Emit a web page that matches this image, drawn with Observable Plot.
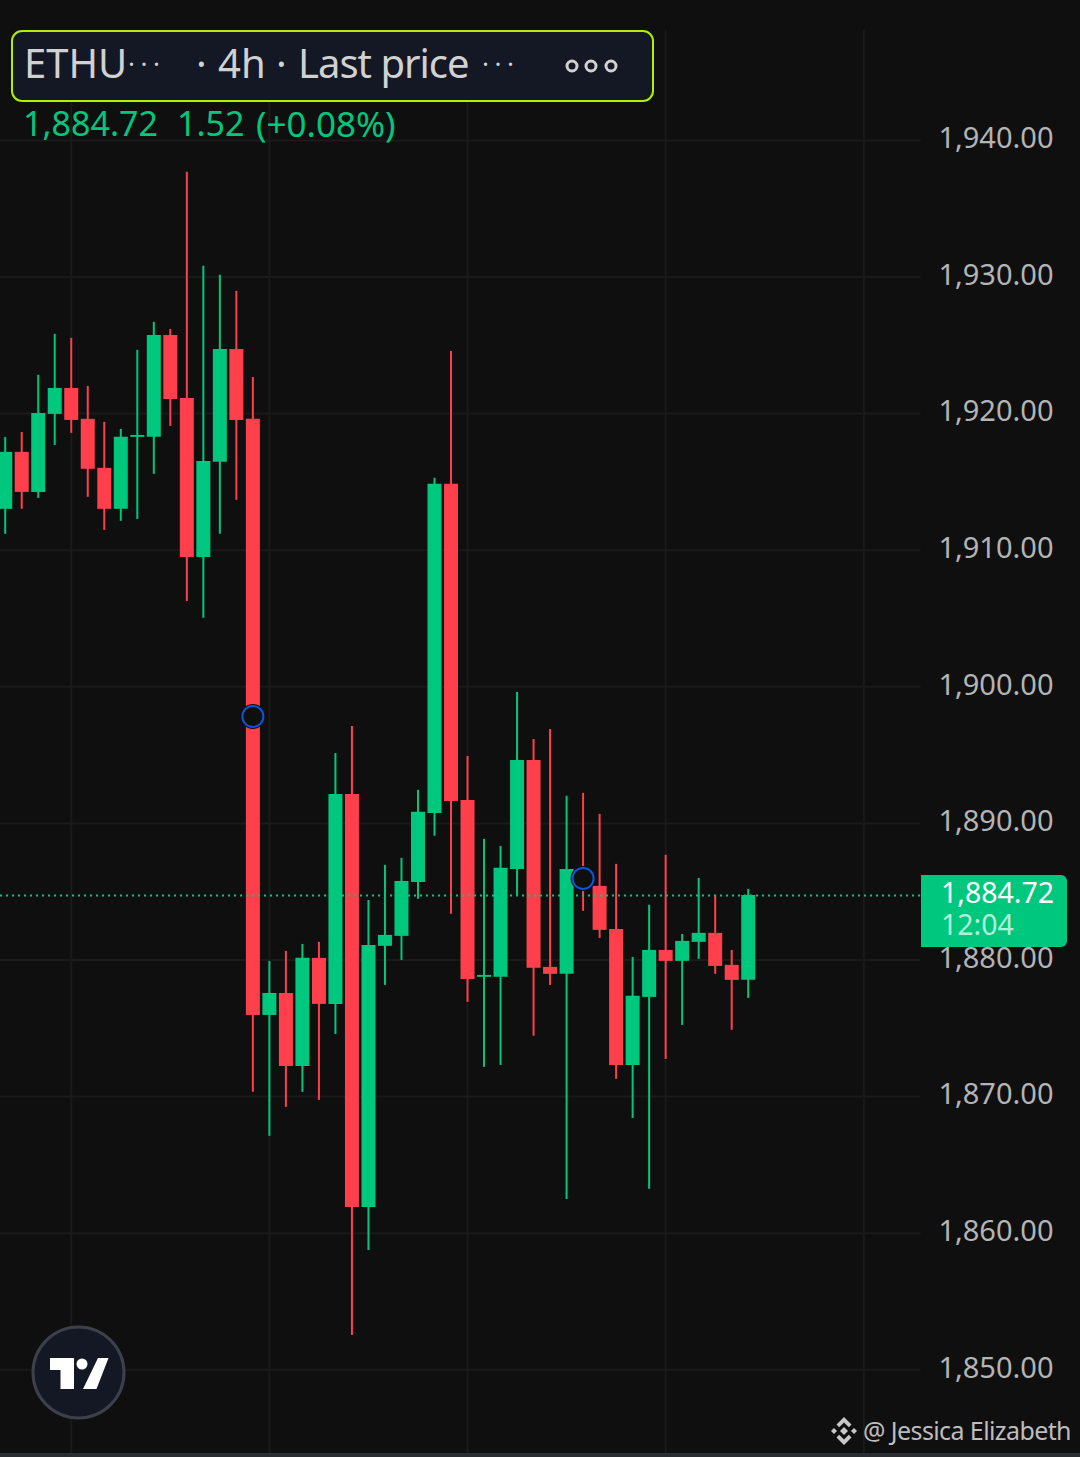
<!DOCTYPE html>
<html>
<head>
<meta charset="utf-8">
<script src="https://cdn.jsdelivr.net/npm/d3@7"></script>
<script src="https://cdn.jsdelivr.net/npm/@observablehq/plot@0.6"></script>
<style>
html,body{margin:0;padding:0;background:#0f0f0f;}
#stage{position:relative;width:1080px;height:1457px;overflow:hidden;font-family:"Noto Sans",sans-serif;}
#stage svg{display:block;}
.abs{position:absolute;white-space:pre;line-height:1;}
</style>
</head>
<body>
<div id="stage"></div>
<script>
const opens = [1912.99,1917.16,1914.23,1919.94,1921.84,1919.58,1915.99,1912.99,1918.26,1918.26,1925.72,1921.11,1909.47,1916.43,1924.70,1919.58,1875.94,1877.55,1872.21,1880.12,1876.75,1892.12,1861.89,1881.00,1881.73,1885.68,1890.73,1914.82,1891.68,1878.73,1878.73,1886.63,1894.61,1879.46,1878.95,1886.56,1885.39,1882.24,1872.28,1877.26,1880.70,1879.90,1881.29,1881.95,1879.61,1878.51];
const closes = [1917.16,1914.23,1920.01,1921.84,1919.50,1915.92,1912.99,1918.26,1918.40,1925.72,1921.04,1909.47,1916.50,1924.70,1919.50,1875.94,1877.55,1872.21,1880.12,1876.75,1892.12,1861.89,1881.07,1881.80,1885.75,1890.81,1914.82,1891.61,1878.58,1878.87,1886.71,1894.61,1879.39,1878.95,1886.63,1885.39,1882.17,1872.28,1877.34,1880.70,1879.90,1881.36,1881.95,1879.53,1878.51,1884.72];
const highs = [1918.26,1918.62,1922.80,1925.80,1925.51,1921.99,1919.36,1918.84,1924.63,1926.68,1926.16,1937.66,1930.78,1930.12,1928.95,1922.65,1879.90,1880.63,1881.14,1881.29,1895.12,1897.10,1884.36,1886.93,1887.44,1892.42,1915.26,1924.55,1894.90,1888.83,1888.32,1899.59,1896.15,1896.88,1891.98,1892.20,1890.66,1887.00,1880.19,1884.00,1887.66,1881.87,1885.97,1884.73,1880.70,1885.17];
const lows = [1911.16,1912.99,1913.79,1917.67,1918.55,1913.87,1911.45,1912.11,1912.25,1915.55,1919.06,1906.25,1905.01,1911.16,1913.65,1870.31,1867.09,1869.21,1870.31,1869.72,1874.55,1852.52,1858.74,1878.14,1879.97,1884.44,1889.05,1883.34,1876.90,1872.14,1872.28,1884.66,1874.41,1878.14,1862.47,1883.56,1881.58,1871.26,1868.40,1863.21,1872.72,1875.21,1880.04,1878.95,1874.85,1877.19];
const priceTicks = [1940,1930,1920,1910,1900,1890,1880,1870,1860,1850];
const timeGrid = [4,16,28,40,52];
const lastPrice = 1884.72;
const markers = [{i:15,price:1897.83},{i:35,price:1885.97}];

const GREEN = "#00c77e", RED = "#ff404c", BG = "#0f0f0f", GRID = "#1a1a1a";
const candles = opens.map((o,i)=>({i,open:o,close:closes[i],high:highs[i],low:lows[i],color:closes[i]>=o?GREEN:RED}));
const xMin = -0.285, xMax = 63.49, xGridEnd = 55.47;

const chart = Plot.plot({
  width:1080, height:1457,
  marginTop:0, marginBottom:0, marginLeft:0, marginRight:27,
  style:{background:"transparent",overflow:"visible"},
  x:{domain:[xMin,xMax],axis:null},
  y:{domain:[1843.58,1950.24],axis:null},
  marks:[
    Plot.ruleY(priceTicks,{x1:xMin,x2:xGridEnd,stroke:GRID,strokeWidth:2}),
    Plot.ruleX(timeGrid,{y1:1843.85,y2:1948.05,stroke:GRID,strokeWidth:2}),
    Plot.ruleX(candles,{x:"i",y1:"low",y2:"high",stroke:"color",strokeWidth:2}),
    Plot.ruleX(candles,{x:"i",y1:"open",y2:"close",stroke:"color",strokeWidth:14}),
    Plot.ruleY([lastPrice],{x1:xMin,x2:xGridEnd,stroke:GREEN,strokeWidth:2,strokeDasharray:"2,4"}),
    Plot.dot(markers,{x:"i",y:"price",r:12.5,fill:BG,stroke:"none"}),
    Plot.dot(markers,{x:"i",y:"price",r:10.5,fill:BG,stroke:"#0b55d9",strokeWidth:2}),
    Plot.axisY(priceTicks,{anchor:"right",tickSize:0,tickPadding:0,textAnchor:"end",label:null,
      tickFormat:d3.format(",.2f"),fontSize:29,fill:"#b4b4b4",dy:-1.5,fontFamily:"Noto Sans"})
  ]
});
const stage = document.getElementById("stage");
stage.appendChild(chart);

stage.insertAdjacentHTML("beforeend",`
<div class="abs" style="left:0;top:1453px;width:1080px;height:4px;background:#2a2e32"></div>

<div class="abs" style="left:11px;top:30px;width:639px;height:68px;background:#141824;border:2px solid #aef000;border-radius:11px"></div>
<div class="abs" style="left:24px;top:43px;font-size:40px;color:#d1d1d1">ETHU</div>
<div class="abs" style="left:128px;top:50px;font-size:26px;color:#d1d1d1;letter-spacing:5.500px">···</div>
<div class="abs" style="left:196px;top:43px;font-size:40px;color:#d1d1d1">·</div>
<div class="abs" style="left:218px;top:43px;font-size:40px;color:#d1d1d1">4h</div>
<div class="abs" style="left:276px;top:43px;font-size:40px;color:#d1d1d1">·</div>
<div class="abs" style="left:298px;top:43px;font-size:40px;color:#d1d1d1;letter-spacing:-1px">Last price</div>
<div class="abs" style="left:482px;top:50px;font-size:26px;color:#d1d1d1;letter-spacing:5.500px">···</div>
<svg class="abs" style="left:560px;top:55px" width="62" height="22" fill="none" stroke="#d1d1d1" stroke-width="3">
  <circle cx="12" cy="11" r="5"/><circle cx="31" cy="11" r="5"/><circle cx="51" cy="11" r="5"/>
</svg>

<div class="abs" style="left:23px;top:105.500px;font-size:34px;color:${GREEN}">1,884.72</div>
<div class="abs" style="left:177px;top:105.500px;font-size:34px;color:${GREEN}">1.52</div>
<div class="abs" style="left:256px;top:105.500px;font-size:35px;color:${GREEN}">(+0.08%)</div>

<div class="abs" style="left:921px;top:875px;width:146px;height:72px;background:${GREEN};border-radius:0 6px 6px 0"></div>
<div class="abs" style="left:941px;top:878px;font-size:28.500px;color:#ffffff">1,884.72</div>
<div class="abs" style="left:941px;top:910px;font-size:28.500px;color:#b3f0da">12:04</div>

<svg class="abs" style="left:30px;top:1324px" width="97" height="97">
  <circle cx="48.500" cy="48.500" r="45.500" fill="#131824" stroke="#3c404b" stroke-width="3"/>
  <path fill="#fff" d="M20 34H44V65H30.500V46H20Z"/>
  <circle cx="52" cy="40" r="5.500" fill="#fff"/>
  <path fill="#fff" d="M68 34H78.500L66.500 65H53Z"/>
</svg>

<svg class="abs" style="left:830px;top:1417px" width="28" height="28" fill="#c8c8c8">
  <path d="M14 0L21.500 7.500L18.800 10.200L14 5.400L9.200 10.200L6.500 7.500Z"/>
  <path d="M14 28L21.500 20.500L18.800 17.800L14 22.600L9.200 17.800L6.500 20.500Z"/>
  <path d="M4 11L7 14L4 17L1 14Z"/>
  <path d="M24 11L27 14L24 17L21 14Z"/>
  <path d="M14 10L18 14L14 18L10 14Z"/>
</svg>
<div class="abs" style="left:863px;top:1418px;font-size:25px;color:#bdbdbd;letter-spacing:-0.6px">@ Jessica Elizabeth</div>
`);
</script>
</body>
</html>
